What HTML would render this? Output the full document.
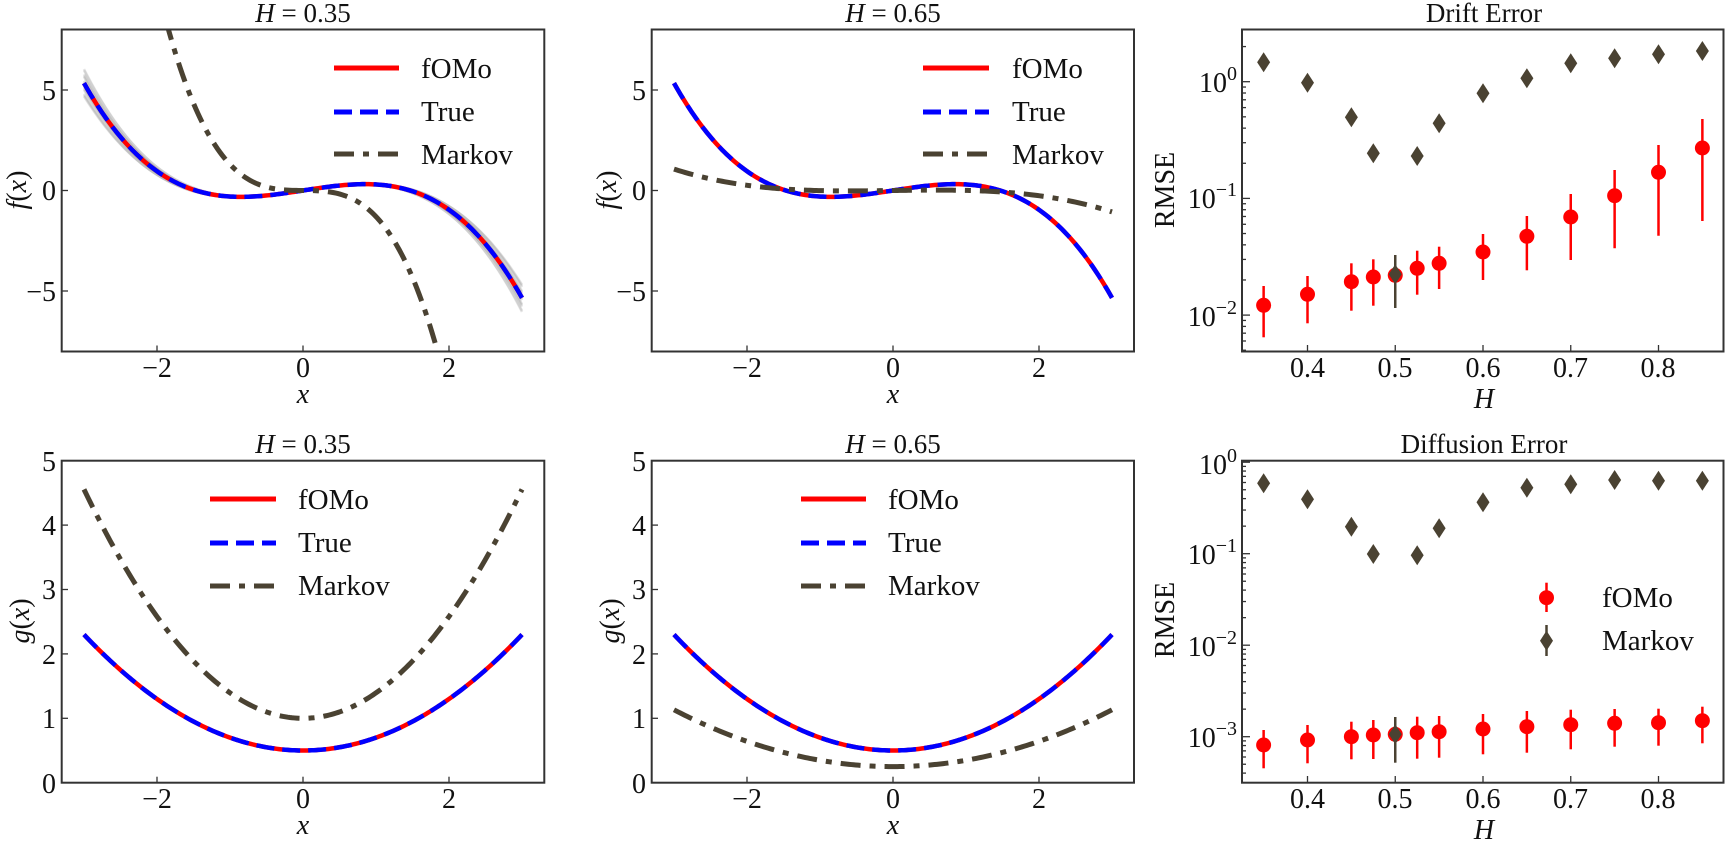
<!DOCTYPE html>
<html><head><meta charset="utf-8">
<style>
html,body{margin:0;padding:0;background:#fff;}
svg{display:block;}
text{font-family:"Liberation Serif","DejaVu Serif",serif;fill:#111;}
.tk{font-size:28px;}
.tt{font-size:27px;}
.lg{font-size:29px;}
.it{font-style:italic;}
</style></head>
<body>
<svg id="s" width="1725" height="842" viewBox="0 0 1725 842" xmlns="http://www.w3.org/2000/svg">
<defs>
<clipPath id="c1"><rect x="61.7" y="29.5" width="482.6" height="322"/></clipPath>
<clipPath id="c2"><rect x="651.7" y="29.5" width="482.3" height="322"/></clipPath>
<clipPath id="c4"><rect x="61.7" y="460.7" width="482.6" height="322"/></clipPath>
<clipPath id="c5"><rect x="651.7" y="460.7" width="482.3" height="322"/></clipPath>
</defs>
<g id="curves"></g>
<g id="ticks" stroke="#333" stroke-width="1.3"></g>
<g id="marks"></g>
<g fill="none" stroke="#333" stroke-width="2">
<rect x="61.7" y="29.5" width="482.6" height="322"/>
<rect x="651.7" y="29.5" width="482.3" height="322"/>
<rect x="1242" y="29.5" width="481.5" height="322"/>
<rect x="61.7" y="460.7" width="482.6" height="322"/>
<rect x="651.7" y="460.7" width="482.3" height="322"/>
<rect x="1242" y="460.7" width="481.5" height="322"/>
</g>

<text class="tt" x="303" y="22" text-anchor="middle"><tspan class="it">H</tspan>  =  0.35</text>
<text class="tt" x="893" y="22" text-anchor="middle"><tspan class="it">H</tspan>  =  0.65</text>
<text class="tt" x="1484" y="22" text-anchor="middle">Drift Error</text>
<text class="tt" x="303" y="453" text-anchor="middle"><tspan class="it">H</tspan>  =  0.35</text>
<text class="tt" x="893" y="453" text-anchor="middle"><tspan class="it">H</tspan>  =  0.65</text>
<text class="tt" x="1484" y="453" text-anchor="middle">Diffusion Error</text>

<g class="tk" text-anchor="middle">
<text x="157" y="377">−2</text><text x="303" y="377">0</text><text x="449" y="377">2</text>
<text x="747" y="377">−2</text><text x="893" y="377">0</text><text x="1039" y="377">2</text>
<text x="1307.5" y="377">0.4</text><text x="1395" y="377">0.5</text><text x="1483" y="377">0.6</text><text x="1570.5" y="377">0.7</text><text x="1658" y="377">0.8</text>
<text x="157" y="808">−2</text><text x="303" y="808">0</text><text x="449" y="808">2</text>
<text x="747" y="808">−2</text><text x="893" y="808">0</text><text x="1039" y="808">2</text>
<text x="1307.5" y="808">0.4</text><text x="1395" y="808">0.5</text><text x="1483" y="808">0.6</text><text x="1570.5" y="808">0.7</text><text x="1658" y="808">0.8</text>
</g>
<g class="tk" text-anchor="end">
<text x="56" y="100">5</text><text x="56" y="200">0</text><text x="56" y="301">−5</text>
<text x="646" y="100">5</text><text x="646" y="200">0</text><text x="646" y="301">−5</text>
<text x="56" y="793">0</text><text x="56" y="728">1</text><text x="56" y="664">2</text><text x="56" y="599">3</text><text x="56" y="535">4</text><text x="56" y="471">5</text>
<text x="646" y="793">0</text><text x="646" y="728">1</text><text x="646" y="664">2</text><text x="646" y="599">3</text><text x="646" y="535">4</text><text x="646" y="471">5</text>
</g>
<g class="tk" text-anchor="end">
<text x="1237" y="92">10<tspan dy="-12" font-size="20">0</tspan></text>
<text x="1237" y="208">10<tspan dy="-12" font-size="20">−1</tspan></text>
<text x="1237" y="326">10<tspan dy="-12" font-size="20">−2</tspan></text>
<text x="1237" y="474">10<tspan dy="-12" font-size="20">0</tspan></text>
<text x="1237" y="564">10<tspan dy="-12" font-size="20">−1</tspan></text>
<text x="1237" y="656">10<tspan dy="-12" font-size="20">−2</tspan></text>
<text x="1237" y="747">10<tspan dy="-12" font-size="20">−3</tspan></text>
</g>
<g class="tk">
<text class="it" x="303" y="403" text-anchor="middle">x</text>
<text class="it" x="893" y="403" text-anchor="middle">x</text>
<text class="it" x="1484" y="408" text-anchor="middle">H</text>
<text class="it" x="303" y="834" text-anchor="middle">x</text>
<text class="it" x="893" y="834" text-anchor="middle">x</text>
<text class="it" x="1484" y="839" text-anchor="middle">H</text>
<text transform="translate(26,190) rotate(-90)" text-anchor="middle"><tspan class="it">f</tspan>(<tspan class="it">x</tspan>)</text>
<text transform="translate(616,190) rotate(-90)" text-anchor="middle"><tspan class="it">f</tspan>(<tspan class="it">x</tspan>)</text>
<text transform="translate(29,621) rotate(-90)" text-anchor="middle"><tspan class="it">g</tspan>(<tspan class="it">x</tspan>)</text>
<text transform="translate(619,621) rotate(-90)" text-anchor="middle"><tspan class="it">g</tspan>(<tspan class="it">x</tspan>)</text>
<text transform="translate(1174,190) rotate(-90)" text-anchor="middle">RMSE</text>
<text transform="translate(1174,620) rotate(-90)" text-anchor="middle">RMSE</text>
</g>
<g class="lg">
<text x="421" y="78">fOMo</text><text x="421" y="121">True</text><text x="421" y="164">Markov</text>
<text x="1012" y="78">fOMo</text><text x="1012" y="121">True</text><text x="1012" y="164">Markov</text>
<text x="298" y="509">fOMo</text><text x="298" y="552">True</text><text x="298" y="595">Markov</text>
<text x="888" y="509">fOMo</text><text x="888" y="552">True</text><text x="888" y="595">Markov</text>
<text x="1602" y="607">fOMo</text><text x="1602" y="650">Markov</text>
</g>
</svg>
<script>
(function(){
var NS="http://www.w3.org/2000/svg";
function el(p,t,a){var e=document.createElementNS(NS,t);for(var k in a)e.setAttribute(k,a[k]);document.getElementById(p).appendChild(e);return e;}
function path(fn,xm,ym,x0,x1){var d="";for(var i=0;i<=200;i++){var x=x0+(x1-x0)*i/200;d+=(i?"L":"M")+xm(x).toFixed(2)+","+ym(fn(x)).toFixed(2);}return d;}
var MK="#4a4232";
function panel(clip,xm,ym,trueF,markF,gray){
  var g=el("curves","g",{"clip-path":"url(#"+clip+")",fill:"none"});
  function add(d,a){var e=document.createElementNS(NS,"path");e.setAttribute("d",d);for(var k in a)e.setAttribute(k,a[k]);g.appendChild(e);}
  if(gray){for(var j=0;j<14;j++){var db=(j-6.5)*0.004;var da=(j%3-1)*0.015;
    add(path(function(x){return trueF(x)-db*x*x*x+da*x;},xm,ym,-3,3),{stroke:"#999","stroke-width":2.5,"stroke-opacity":0.25});}}
  add(path(trueF,xm,ym,-3,3),{stroke:"#ff0000","stroke-width":4.5});
  add(path(trueF,xm,ym,-3,3),{stroke:"#0000ff","stroke-width":4.5,"stroke-dasharray":"18 8"});
  add(path(markF,xm,ym,-3,3),{stroke:MK,"stroke-width":5,"stroke-dasharray":"20 9 6 9"});
}
function legend(x0,x1,y1,y2,y3){
  el("curves","line",{x1:x0,y1:y1,x2:x1,y2:y1,stroke:"#ff0000","stroke-width":5});
  el("curves","line",{x1:x0,y1:y2,x2:x1,y2:y2,stroke:"#0000ff","stroke-width":5,"stroke-dasharray":"18 8"});
  el("curves","line",{x1:x0,y1:y3,x2:x1,y2:y3,stroke:MK,"stroke-width":5,"stroke-dasharray":"20 9 6 9"});
}
var tf=function(x){return 0.56*x-0.26*x*x*x;};
var xa=function(x){return 303+73*x;}, xb=function(x){return 893+73*x;};
var yt=function(v){return 190.5-20.1*v;}, yb=function(v){return 782.7-64.4*v;};
panel("c1",xa,yt,tf,function(x){return -1.27*x*x*x-0.03*x;},true);
panel("c2",xb,yt,tf,function(x){return -0.045*x*x*x+0.05*x;},false);
var gf=function(x){return 0.5+0.2*x*x;};
panel("c4",xa,yb,gf,function(x){return 1+0.395*x*x;},false);
panel("c5",xb,yb,gf,function(x){return 0.25+0.098*x*x;},false);
legend(334,399,68,112,154);
legend(923,989,68,112,154);
legend(210,276,499,543,586);
legend(801,866,499,543,586);
function tick(x1,y1,x2,y2){el("ticks","line",{x1:x1,y1:y1,x2:x2,y2:y2});}
[[xa,351.5],[xb,351.5],[xa,782.7],[xb,782.7]].forEach(function(p){[-2,0,2].forEach(function(v){tick(p[0](v),p[1],p[0](v),p[1]-6);});});
[-5,0,5].forEach(function(v){tick(61.7,yt(v),68,yt(v));tick(651.7,yt(v),658,yt(v));});
[0,1,2,3,4,5].forEach(function(v){tick(61.7,yb(v),68,yb(v));tick(651.7,yb(v),658,yb(v));});
var hx=function(h){return 1307.5+877.5*(h-0.4);};
[0.4,0.5,0.6,0.7,0.8].forEach(function(h){tick(hx(h),351.5,hx(h),345);tick(hx(h),782.7,hx(h),776);});
var l3=function(v){return 81.7-116.7*Math.log10(v);}, l6=function(v){return 736.7-91.5*(Math.log10(v)+3);};
function logticks(f,top,bot){for(var e=-4;e<=1;e++){for(var m=1;m<10;m++){var y=f(m*Math.pow(10,e));if(y>top+1&&y<bot-1)tick(1242,y,m==1?1250:1246,y);}}}
logticks(l3,29.5,351.5);logticks(l6,460.7,782.7);
var H=[0.35,0.4,0.45,0.475,0.5,0.525,0.55,0.6,0.65,0.7,0.75,0.8,0.85];
function dia(x,y){el("marks","path",{d:"M"+x+","+(y-10)+"L"+(x+6.5)+","+y+"L"+x+","+(y+10)+"L"+(x-6.5)+","+y+"Z",fill:MK});}
function dot(x,y,a,b){el("marks","line",{x1:x,y1:a,x2:x,y2:b,stroke:"#ff0000","stroke-width":2.5});el("marks","circle",{cx:x,cy:y,r:7.5,fill:"#ff0000"});}
var mk3=[62.3,82.7,117.3,153.3,null,156,123.3,93.3,78.3,63.3,58.3,54.3,51];
var fo3=[[305.3,286,337.3],[294.3,276,323.3],[281.7,263.3,310.7],[277,259.3,305.7],[275.3,262,300],[268.3,250.7,294.7],[263.3,246.7,289],[252,234,280],[236.3,216,270.3],[217,194,260],[195.7,170,248.3],[172.3,145,235.7],[148,119,221]];
H.forEach(function(h,i){var x=hx(h);if(mk3[i])dia(x,mk3[i]);
 if(i==4){el("marks","line",{x1:x,y1:255,x2:x,y2:308,stroke:MK,"stroke-width":2.5});dot(x,fo3[i][0],fo3[i][0],fo3[i][0]);dia(x,fo3[i][0]-1);}
 else dot(x,fo3[i][0],fo3[i][1],fo3[i][2]);});
var mk6=[483.3,499.3,526.7,554,null,555.3,528.3,502.3,487.7,484.3,480,480.7,480.7];
var fo6=[[745,730,768.3],[740,725,763.3],[736.7,721.7,759.3],[735,720,759],[734.3,717,762.7],[732.7,716.7,758.7],[731.7,716,757.7],[729,714,754.3],[726.7,711,752.7],[724.7,709.7,749.3],[723.3,709,746.7],[722.7,708.7,745.7],[720.7,706.7,743.3]];
H.forEach(function(h,i){var x=hx(h);if(mk6[i])dia(x,mk6[i]);
 if(i==4){el("marks","line",{x1:x,y1:717,x2:x,y2:762.7,stroke:MK,"stroke-width":2.5});dot(x,fo6[i][0],fo6[i][0],fo6[i][0]);dia(x,fo6[i][0]);}
 else dot(x,fo6[i][0],fo6[i][1],fo6[i][2]);});
dot(1546.5,597.7,582.7,612);
el("marks","line",{x1:1546.5,y1:625,x2:1546.5,y2:656,stroke:MK,"stroke-width":2.5});dia(1546.5,640.7);
})();
</script>
</body></html>
